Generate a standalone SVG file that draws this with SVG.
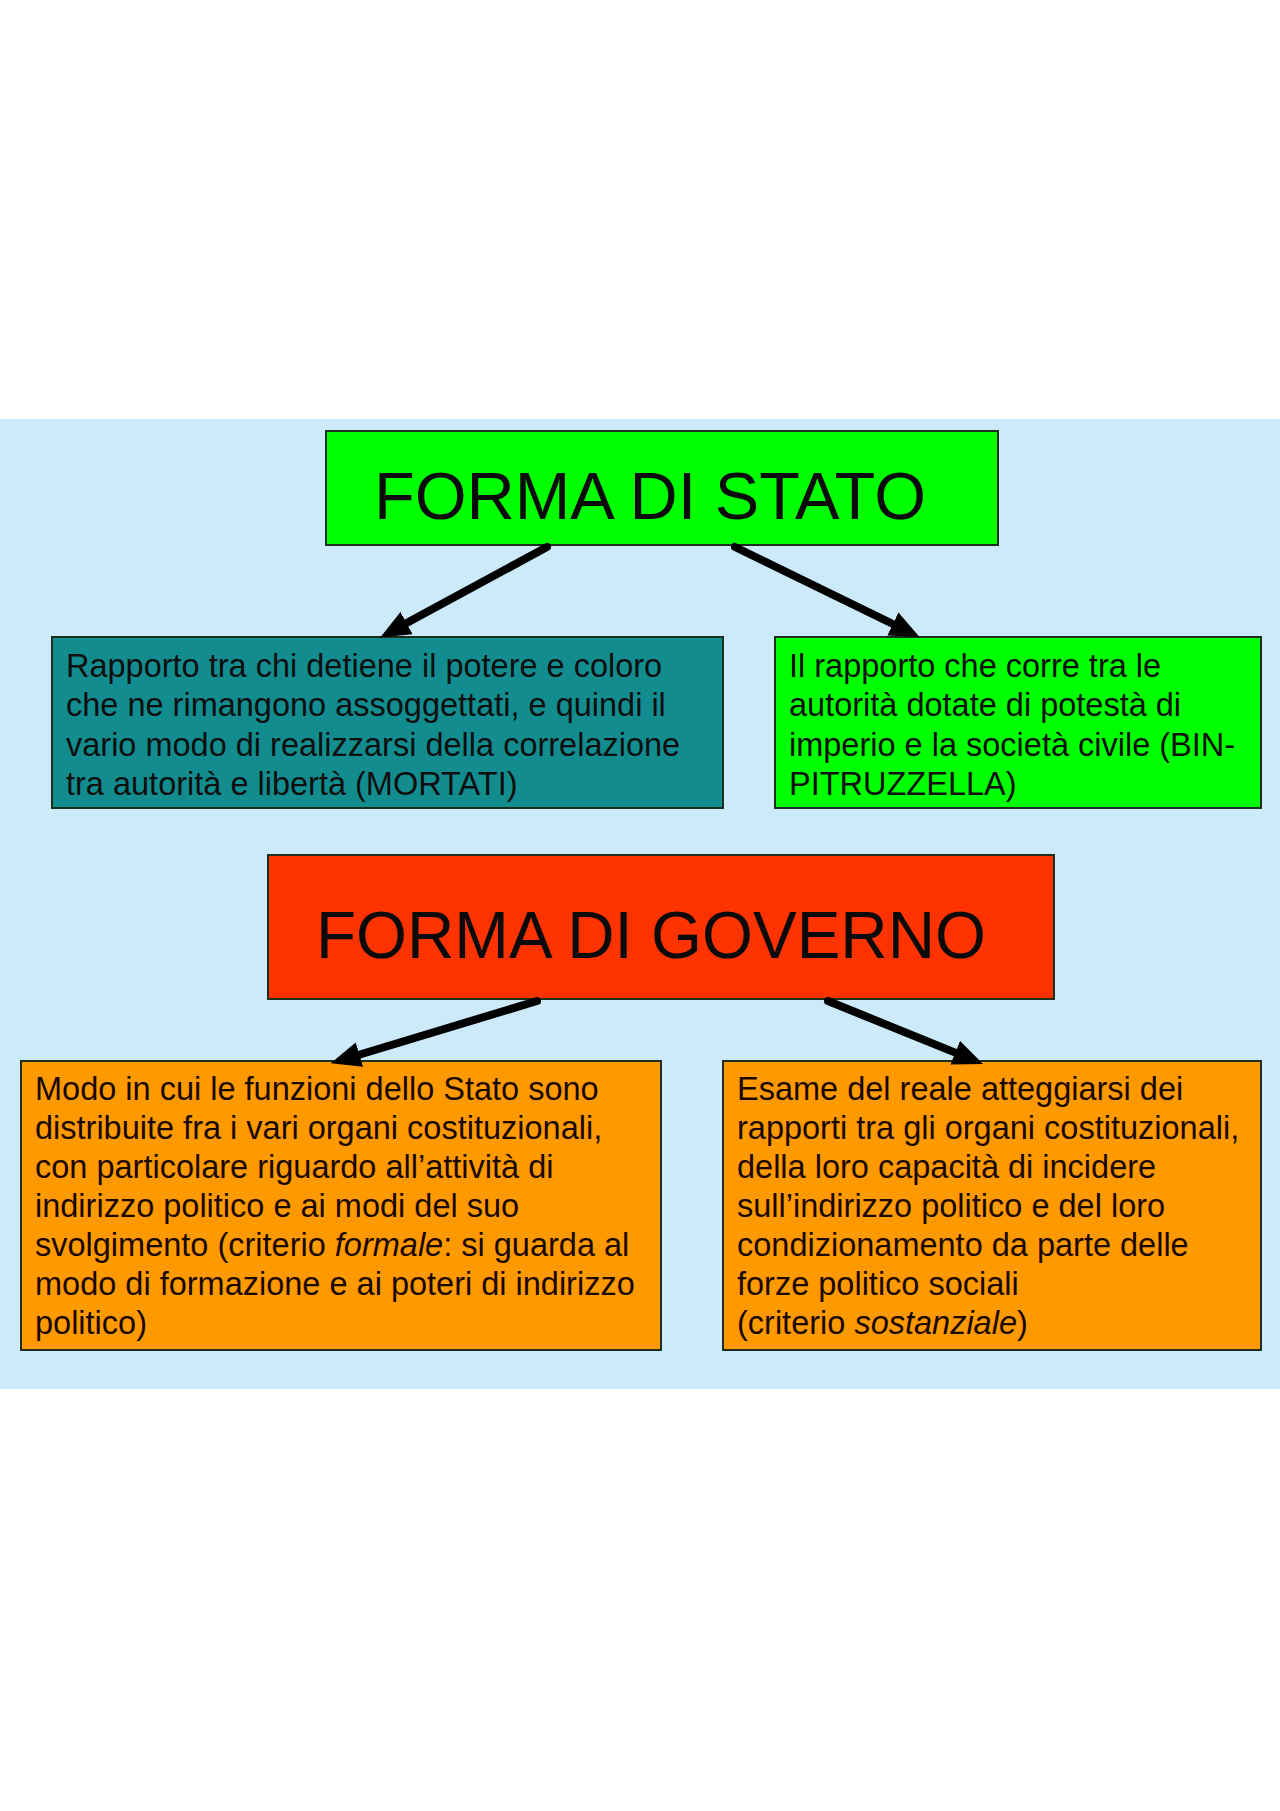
<svg xmlns="http://www.w3.org/2000/svg" width="1280" height="1811" viewBox="0 0 1280 1811">
<defs>
<style>
.box{stroke:#1e2e1e;stroke-width:2}
.title{font-family:"Liberation Sans",Arial,sans-serif;font-size:66px;fill:#0a0a0a}
.body{font-family:"Liberation Sans",Arial,sans-serif;font-size:32.5px;fill:#0f0f0f}
.org{fill:#1a0800}
.conn{stroke:#000;stroke-width:8;stroke-linecap:round;fill:none;marker-end:url(#ah)}
</style>
<marker id="ah" markerUnits="userSpaceOnUse" markerWidth="30" markerHeight="26" viewBox="0 0 26 22" refX="4" refY="11" orient="auto">
<path d="M0,0 L26,11 L0,22 z" fill="#000"/>
</marker>
</defs>
<rect x="0" y="0" width="1280" height="1811" fill="#ffffff"/>
<rect x="0" y="419" width="1280" height="970" fill="#cdeafa"/>

<g id="forma-di-stato">
<rect class="box" x="326" y="431" width="672" height="114" fill="#00ff00"/>
<text class="title" x="374" y="519" textLength="552" lengthAdjust="spacingAndGlyphs">FORMA DI STATO</text>
</g>

<g id="mortati">
<rect class="box" x="52" y="637" width="671" height="171" fill="#128c8e"/>
<text class="body" x="66" y="677">Rapporto tra chi detiene il potere e coloro</text>
<text class="body" x="66" y="716">che ne rimangono assoggettati, e quindi il</text>
<text class="body" x="66" y="756">vario modo di realizzarsi della correlazione</text>
<text class="body" x="66" y="795">tra autorità e libertà (MORTATI)</text>
</g>

<g id="bin-pitruzzella">
<rect class="box" x="775" y="637" width="486" height="171" fill="#00ff00"/>
<text class="body" x="789" y="677">Il rapporto che corre tra le</text>
<text class="body" x="789" y="716">autorità dotate di potestà di</text>
<text class="body" x="789" y="756">imperio e la società civile (BIN-</text>
<text class="body" x="789" y="795">PITRUZZELLA)</text>
</g>

<g id="forma-di-governo">
<rect class="box" x="268" y="855" width="786" height="144" fill="#ff3300"/>
<text class="title" x="316" y="958" textLength="670" lengthAdjust="spacingAndGlyphs">FORMA DI GOVERNO</text>
</g>

<g id="criterio-formale">
<rect class="box" x="21" y="1061" width="640" height="289" fill="#ff9900"/>
<text class="body org" x="35" y="1100">Modo in cui le funzioni dello Stato sono</text>
<text class="body org" x="35" y="1139">distribuite fra i vari organi costituzionali,</text>
<text class="body org" x="35" y="1178">con particolare riguardo all’attività di</text>
<text class="body org" x="35" y="1217">indirizzo politico e ai modi del suo</text>
<text class="body org" x="35" y="1256">svolgimento (criterio <tspan font-style="italic">formale</tspan>: si guarda al</text>
<text class="body org" x="35" y="1295">modo di formazione e ai poteri di indirizzo</text>
<text class="body org" x="35" y="1334">politico)</text>
</g>

<g id="criterio-sostanziale">
<rect class="box" x="723" y="1061" width="538" height="289" fill="#ff9900"/>
<text class="body org" x="737" y="1100">Esame del reale atteggiarsi dei</text>
<text class="body org" x="737" y="1139">rapporti tra gli organi costituzionali,</text>
<text class="body org" x="737" y="1178">della loro capacità di incidere</text>
<text class="body org" x="737" y="1217">sull’indirizzo politico e del loro</text>
<text class="body org" x="737" y="1256">condizionamento da parte delle</text>
<text class="body org" x="737" y="1295">forze politico sociali</text>
<text class="body org" x="737" y="1334">(criterio <tspan font-style="italic">sostanziale</tspan>)</text>
</g>

<g id="connectors">
<line class="conn" x1="547" y1="547" x2="402.5" y2="625.3"/>
<line class="conn" x1="735" y1="547" x2="897" y2="626"/>
<line class="conn" x1="537" y1="1001" x2="355" y2="1056"/>
<line class="conn" x1="828" y1="1001" x2="959.5" y2="1054.4"/>
</g>
</svg>
